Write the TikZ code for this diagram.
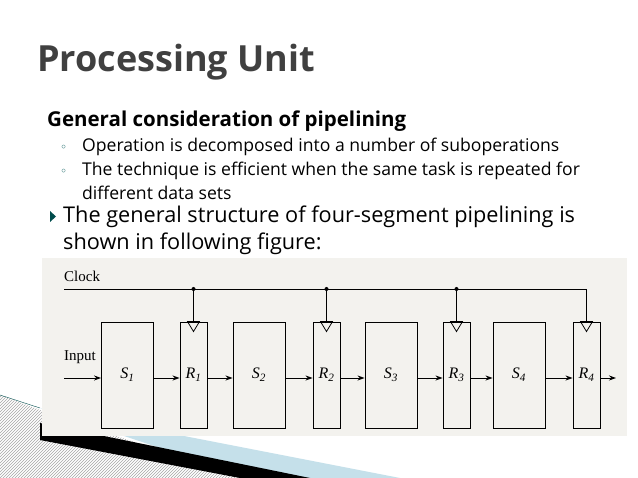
\documentclass[tikz,border=0pt]{standalone}
\usepackage{fontspec}
\setmainfont{Open Sans}
\newfontfamily\fig{Liberation Serif}
\newfontfamily\symfont{DejaVu Sans}
\usetikzlibrary{arrows.meta,patterns}
\definecolor{titlegray}{HTML}{404040}
\definecolor{figbg}{HTML}{F3F2EE}
\definecolor{lblue}{HTML}{C5E0EA}
\tikzset{
  stg/.style={draw,line width=0.9pt,minimum width=52pt,minimum height=106pt,inner sep=0pt,font=\fig\itshape\fontsize{16}{16}\selectfont},
  reg/.style={draw,line width=0.9pt,minimum width=27pt,minimum height=106pt,inner sep=0pt,font=\fig\itshape\fontsize{16}{16}\selectfont},
  flow/.style={line width=0.9pt,-{Stealth[length=7pt,width=5pt]}},
  clk/.style={line width=0.9pt},
  txt/.style={anchor=west,inner sep=0pt,text=titlegray}
}
\begin{document}
\begin{tikzpicture}[x=1pt,y=-1pt]
\useasboundingbox (0,0) rectangle (638,478);
\fill[white] (0,0) rectangle (638,478);
% decoration
\fill[pattern=north east lines,pattern color=gray!70] (0,395) -- (40,410) -- (240,478) -- (0,478) -- cycle;
\fill[lblue] (40,408) -- (400,478) -- (250,478) -- cycle;
\fill[black] (40,423) -- (310,478) -- (240,478) -- (40,440) -- cycle;
\draw[teal!60!black] (0,395) -- (40,408);
% texts
\node[txt,font=\bfseries\fontsize{36}{36}\selectfont] (title) at (37,62) {Processing Unit};
\node[txt,text=black,font=\bfseries\fontsize{20.5}{20.5}\selectfont] (h) at (47,121) {General consideration of pipelining};
\node[txt,text=teal!70!black,font=\symfont\fontsize{12}{12}\selectfont] (b1) at (60,148) {◦};
\node[txt,text=teal!70!black,font=\symfont\fontsize{12}{12}\selectfont] (b2) at (60,172) {◦};
\node[txt,text=black,font=\fontsize{17.6}{17.6}\selectfont] (t1) at (82,147) {Operation is decomposed into a number of suboperations};
\node[txt,text=black,font=\fontsize{17.6}{17.6}\selectfont] (t2) at (82,171) {The technique is efficient when the same task is repeated for};
\node[txt,text=black,font=\fontsize{17.6}{17.6}\selectfont] (t3) at (82,193) {different data sets};
\fill[teal!60!black] (50,211) -- (56,216.5) -- (50,222) -- cycle;
\node[txt,text=black,font=\fontsize{21.7}{21.7}\selectfont] (m1) at (63,217) {The general structure of four-segment pipelining is};
\node[txt,text=black,font=\fontsize{21.7}{21.7}\selectfont] (m2) at (63,244) {shown in following figure:};
% figure
\fill[figbg] (42,258) rectangle (627,436);
\node[anchor=west,inner sep=0pt,font=\fig\fontsize{15}{15}\selectfont] (clock) at (64,276) {Clock};
\node[anchor=west,inner sep=0pt,font=\fig\fontsize{15}{15}\selectfont] (input) at (64,357) {Input};
\coordinate (in) at (64,378);
\node[stg] (S1) at (127.5,375) {S\textsubscript{1}};
\node[reg] (R1) at (193.5,375) {R\textsubscript{1}};
\node[stg] (S2) at (259,375) {S\textsubscript{2}};
\node[reg] (R2) at (326.5,375) {R\textsubscript{2}};
\node[stg] (S3) at (391,375) {S\textsubscript{3}};
\node[reg] (R3) at (456.5,375) {R\textsubscript{3}};
\node[stg] (S4) at (519,375) {S\textsubscript{4}};
\node[reg] (R4) at (586.5,375) {R\textsubscript{4}};
\coordinate (out) at (616,378);
\draw[flow] (in) -- (S1.west|-in);
\foreach \a/\b in {S1/R1,R1/S2,S2/R2,R2/S3,S3/R3,R3/S4,S4/R4}
  \draw[flow] (\a.east|-in) -- (\b.west|-in);
\draw[flow] (R4.east|-in) -- (out);
\coordinate (c0) at (64,289);
\draw[clk] (c0) -- (R4.north|-c0) -- (R4.north);
\foreach \r in {R1,R2,R3}{
  \draw[clk] (\r.north|-c0) -- (\r.north);
  \fill (\r.north|-c0) circle (2pt);
}
\foreach \r in {R1,R2,R3,R4}
  \draw[line width=0.8pt] ([xshift=-6pt]\r.north) -- ([xshift=6pt]\r.north) -- ([yshift=-10pt]\r.north) -- cycle;
\end{tikzpicture}
\end{document}
